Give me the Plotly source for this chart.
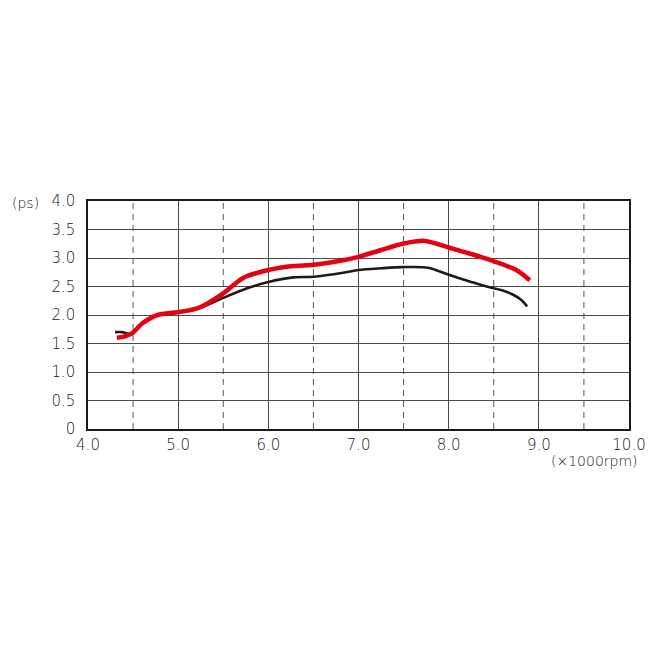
import plotly.graph_objects as go

# Data
red_rpm = [4.32, 4.40, 4.49, 4.60, 4.77, 5.00, 5.22, 5.50, 5.72, 6.00, 6.28, 6.50, 6.83, 7.00, 7.25, 7.49, 7.74, 8.01, 8.25, 8.49, 8.75, 8.90]
red_ps = [1.60, 1.62, 1.68, 1.85, 2.00, 2.05, 2.12, 2.38, 2.65, 2.79, 2.86, 2.88, 2.96, 3.02, 3.14, 3.25, 3.30, 3.18, 3.07, 2.95, 2.79, 2.61]

black_rpm = [4.30, 4.38, 4.47, 4.60, 4.77, 5.00, 5.22, 5.50, 5.75, 6.00, 6.28, 6.50, 6.83, 7.00, 7.25, 7.49, 7.77, 8.01, 8.25, 8.44, 8.60, 8.71, 8.80, 8.87]
black_ps = [1.70, 1.70, 1.67, 1.85, 2.00, 2.05, 2.11, 2.30, 2.46, 2.58, 2.66, 2.67, 2.74, 2.79, 2.82, 2.84, 2.83, 2.70, 2.58, 2.49, 2.43, 2.36, 2.27, 2.15]

x_ticks = [4, 5, 6, 7, 8, 9, 10]
x_tick_labels = ["4.0", "5.0", "6.0", "7.0", "8.0", "9.0", "10.0"]
y_ticks = [0, 0.5, 1, 1.5, 2, 2.5, 3, 3.5, 4]
y_tick_labels = ["0", "0.5", "1.0", "1.5", "2.0", "2.5", "3.0", "3.5", "4.0"]
dashed_x = [4.5, 5.5, 6.5, 7.5, 8.5, 9.5]

FONT = "DejaVu Sans, Noto Sans CJK JP, sans-serif"
TXT = "#231815"

fig = go.Figure()
fig.add_trace(go.Scatter(x=black_rpm, y=black_ps, mode="lines",
                         line=dict(color="#231815", width=2.6, shape="spline", smoothing=0.8),
                         hoverinfo="skip"))
fig.add_trace(go.Scatter(x=red_rpm, y=red_ps, mode="lines",
                         line=dict(color="#e60012", width=4.5, shape="spline", smoothing=0.8),
                         hoverinfo="skip"))

for xv in dashed_x:
    fig.add_shape(type="line", x0=xv, x1=xv, y0=0, y1=4, xref="x", yref="y",
                  line=dict(color="#555555", width=1, dash="6px,5px"), layer="below")

tickfont = dict(family=FONT, size=15, color=TXT, weight=200)

fig.update_layout(
    width=661, height=661,
    margin=dict(l=88, r=32, t=201, b=232),
    paper_bgcolor="white", plot_bgcolor="white",
    showlegend=False,
    font=dict(family=FONT, size=15, color=TXT),
    xaxis=dict(range=[4, 10], tickvals=x_ticks, ticktext=x_tick_labels,
               tickfont=tickfont, ticklabelstandoff=1,
               showgrid=True, gridcolor="#4a4a4a", gridwidth=1,
               showline=True, linecolor="#231815", linewidth=1.5, mirror=True,
               ticks="", zeroline=False, fixedrange=True),
    yaxis=dict(range=[0, 4], tickvals=y_ticks, ticktext=y_tick_labels,
               tickfont=tickfont, ticklabelstandoff=8,
               showgrid=True, gridcolor="#4a4a4a", gridwidth=1,
               showline=True, linecolor="#231815", linewidth=1.5, mirror=True,
               ticks="", zeroline=False, fixedrange=True),
    annotations=[
        dict(text="(ps)", xref="paper", yref="paper", x=-0.087, y=0.99,
             xanchor="right", yanchor="middle", showarrow=False,
             font=dict(family=FONT, size=14, color=TXT, weight=200)),
        dict(text="(×1000rpm)", xref="paper", yref="paper", x=1.02, y=-0.14,
             xanchor="right", yanchor="middle", showarrow=False,
             font=dict(family=FONT, size=14, color=TXT, weight=200)),
    ],
)

fig.write_html("out.html")
